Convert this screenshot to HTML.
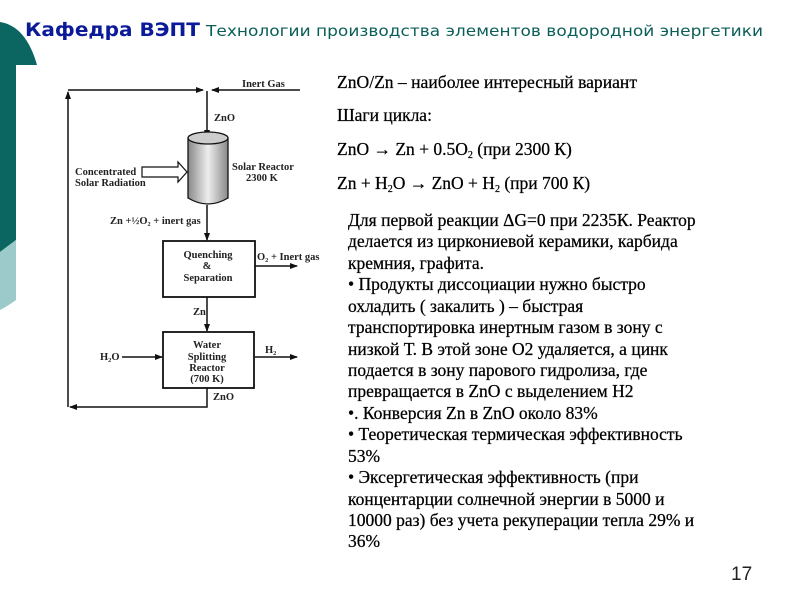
<!DOCTYPE html>
<html><head><meta charset="utf-8"><style>
body{margin:0;background:#fff;width:800px;height:600px;overflow:hidden;position:relative}
svg{position:absolute;left:0;top:0}
.d{font-family:"Liberation Serif",serif;font-weight:bold;font-size:10.5px;fill:#222}
.r{font-family:"Liberation Serif",serif;font-size:17.5px;fill:#000;stroke:#000;stroke-width:0.25}
.t{font-family:"Liberation Serif",serif;font-size:17.5px;fill:#000;stroke:#000;stroke-width:0.25}
</style></head><body>
<svg width="800" height="600" viewBox="0 0 800 600">
<defs>
<marker id="a" markerWidth="8" markerHeight="6" refX="7" refY="3" orient="auto" markerUnits="userSpaceOnUse"><path d="M0,0 L8,3 L0,6 Z" fill="#111"/></marker>
<linearGradient id="g" x1="0" x2="1"><stop offset="0" stop-color="#888"/><stop offset="0.5" stop-color="#eee"/><stop offset="1" stop-color="#888"/></linearGradient>
</defs>
<path d="M0,22 Q26,26 37,65 L16,65 L16,240 L0,252 Z" fill="#0b6661"/>
<path d="M0,252 L16,240 L16,300 Q8,306 0,310 Z" fill="#9cc9c9"/>
<text x="25" y="36" font-family="DejaVu Sans,sans-serif" font-weight="bold" font-size="19" fill="#0a1a99" textLength="175" lengthAdjust="spacingAndGlyphs">Кафедра ВЭПТ</text>
<text x="206" y="36" font-family="DejaVu Sans,sans-serif" font-size="15" fill="#0b5e58" textLength="557" lengthAdjust="spacingAndGlyphs">Технологии производства элементов водородной энергетики</text>

<g stroke="#111" stroke-width="1.5" fill="none">
<line x1="68" y1="407" x2="68" y2="92" marker-end="url(#a)"/>
<line x1="68" y1="90" x2="203" y2="90" marker-end="url(#a)"/>
<line x1="300" y1="90" x2="212" y2="90" marker-end="url(#a)"/>
<line x1="207" y1="91" x2="207" y2="137" marker-end="url(#a)"/>
<line x1="207" y1="205" x2="207" y2="240" marker-end="url(#a)"/>
<line x1="207" y1="297" x2="207" y2="331" marker-end="url(#a)"/>
<line x1="255" y1="266" x2="297" y2="266" marker-end="url(#a)"/>
<line x1="122" y1="357" x2="162" y2="357" marker-end="url(#a)"/>
<line x1="255" y1="357" x2="297" y2="357" marker-end="url(#a)"/>
<polyline points="207,388 207,407 70,407" marker-end="url(#a)"/>
<rect x="163" y="241" width="92" height="56" stroke-width="1.8"/>
<rect x="163" y="332" width="91" height="56" stroke-width="1.8"/>
<path d="M142,167 L178,167 L178,162 L187,172 L178,182 L178,177 L142,177 Z" stroke-width="1.2"/>
</g>
<path d="M188,138 L188,198 Q208,210 228,198 L228,138 Z" fill="url(#g)" stroke="#111" stroke-width="1.3"/>
<ellipse cx="208" cy="138" rx="20" ry="6" fill="#ccc" stroke="#111" stroke-width="1.3"/>

<text class="d" x="242" y="87" font-size="11">Inert Gas</text>
<text class="d" x="214" y="121">ZnO</text>
<text class="d" x="75" y="175">Concentrated</text>
<text class="d" x="75" y="186">Solar Radiation</text>
<text class="d" x="232" y="170">Solar Reactor</text>
<text class="d" x="246" y="181">2300 K</text>
<text class="d" x="110" y="224">Zn +½O₂ + inert gas</text>
<text class="d" x="208" y="258" text-anchor="middle">Quenching</text>
<text class="d" x="207" y="269" text-anchor="middle">&amp;</text>
<text class="d" x="208" y="281" text-anchor="middle">Separation</text>
<text class="d" x="257" y="260">O₂ + Inert gas</text>
<text class="d" x="193" y="315">Zn</text>
<text class="d" x="207" y="348" text-anchor="middle">Water</text>
<text class="d" x="207" y="360" text-anchor="middle">Splitting</text>
<text class="d" x="207" y="371" text-anchor="middle">Reactor</text>
<text class="d" x="207" y="382" text-anchor="middle">(700 K)</text>
<text class="d" x="100" y="360">H₂O</text>
<text class="d" x="265" y="353">H₂</text>
<text class="d" x="213" y="400">ZnO</text>

<text class="r" x="337" y="88" textLength="300" lengthAdjust="spacingAndGlyphs">ZnO/Zn – наиболее интересный вариант</text>
<text class="r" x="337" y="121">Шаги цикла:</text>
<text class="r" x="337" y="155">ZnO  → Zn + 0.5O<tspan font-size="10" dy="3">2</tspan><tspan dy="-3"> (при 2300 К)</tspan></text>
<text class="r" x="337" y="189">Zn + H<tspan font-size="10" dy="3">2</tspan><tspan dy="-3">O  → ZnO + H</tspan><tspan font-size="10" dy="3">2</tspan><tspan dy="-3"> (при 700 К)</tspan></text>

<text class="t" x="348" y="226">Для первой реакции ΔG=0 при 2235К. Реактор</text>
<text class="t" x="348" y="247">делается из циркониевой керамики, карбида</text>
<text class="t" x="348" y="269">кремния, графита.</text>
<text class="t" x="348" y="290">• Продукты диссоциации нужно быстро</text>
<text class="t" x="348" y="312">охладить ( закалить ) – быстрая</text>
<text class="t" x="348" y="333">транспортировка инертным газом в зону с</text>
<text class="t" x="348" y="355">низкой Т. В этой зоне О2 удаляется, а цинк</text>
<text class="t" x="348" y="376">подается в зону  парового гидролиза, где</text>
<text class="t" x="348" y="397">превращается в ZnO с выделением Н2</text>
<text class="t" x="348" y="419">•. Конверсия Zn в ZnO около  83%</text>
<text class="t" x="348" y="440">• Теоретическая термическая эффективность</text>
<text class="t" x="348" y="462">53%</text>
<text class="t" x="348" y="483">• Эксергетическая эффективность (при</text>
<text class="t" x="348" y="505">концентарции солнечной энергии в 5000 и</text>
<text class="t" x="348" y="526">10000 раз)  без учета рекуперации тепла 29% и</text>
<text class="t" x="348" y="547">36%</text>
<text x="731" y="580" font-family="Liberation Sans,sans-serif" font-size="19" fill="#222">17</text>
</svg>
</body></html>
